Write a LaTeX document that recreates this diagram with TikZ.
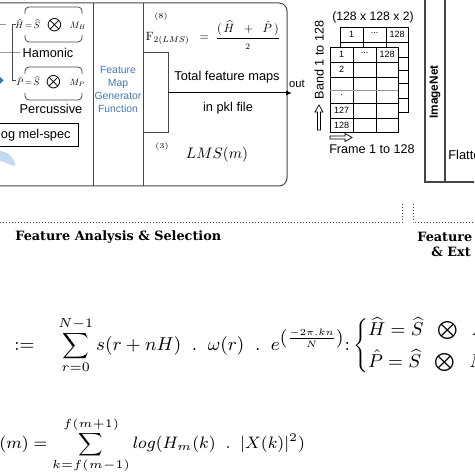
\RequirePackage{fix-cm}
\documentclass[tikz,border=0pt]{standalone}
\usepackage{amsmath}
\usepackage{fontspec}
\setsansfont{Liberation Sans}
\newfontfamily\headfont{DejaVu Serif}
\usetikzlibrary{arrows.meta,positioning}
\definecolor{fmblue}{RGB}{70,120,175}
\definecolor{boxgrey}{RGB}{70,70,70}
\definecolor{lightgrey}{RGB}{150,150,150}
\definecolor{iconblue}{RGB}{40,120,200}
\newcommand{\bigox}{\scalebox{1.45}{$\bigotimes$}}

\begin{document}
\begin{tikzpicture}[x=0.5pt,y=-0.5pt,
  textnode/.style={font=\sffamily\fontsize{6.4}{7.7}\selectfont,inner sep=0pt},
  gennode/.style={font=\sffamily\fontsize{5.2}{6.5}\selectfont,text=fmblue,align=center,inner sep=0pt},
  cellnode/.style={font=\sffamily\fontsize{4.5}{5}\selectfont,inner sep=0pt},
  tagnode/.style={font=\fontsize{3.8}{4}\selectfont,inner sep=0pt},
  mathnode/.style={font=\normalsize,inner sep=0pt},
  eqnode/.style={font=\fontsize{9.3}{11}\selectfont,anchor=west,inner sep=0pt},
  headnode/.style={font=\headfont\bfseries\fontsize{6.4}{7.5}\selectfont,inner sep=0pt,anchor=west},
  cell/.style={draw=black,line width=0.4pt,fill=white},
  hollow/.style={draw=black,line width=0.35pt,fill=white}]
  \useasboundingbox (0,0) rectangle (474,474);
  \clip (0,0) rectangle (474,474);

  % feature analysis frame
  \draw[boxgrey,line width=0.5pt,rounded corners=4pt] (0,3) -- (287,3) -- (287,186) -- (0,186);
  \draw[boxgrey,line width=0.5pt] (93,3) -- (93,186);
  \draw[boxgrey,line width=0.5pt] (143,3) -- (143,186);

  % HPSS
  \draw[lightgrey,line width=0.4pt] (0,24) -- (6,24);
  \draw[lightgrey,line width=0.4pt] (0,52) -- (20,52);
  \draw[boxgrey,line width=0.4pt] (16,24) -- (12,24) -- (12,80) -- (16,80);
  \fill[iconblue] (0,77) -- (3.5,80.5) -- (0,84) -- cycle;
  \draw[boxgrey,line width=0.4pt,rounded corners=2pt] (25,14) -- (25,7) -- (82,7) -- (82,14);
  \draw[boxgrey,line width=0.4pt,rounded corners=2pt] (25,35) -- (25,42) -- (82,42) -- (82,35);
  \draw[boxgrey,line width=0.4pt,rounded corners=2pt] (25,74) -- (25,67) -- (82,67) -- (82,74);
  \draw[boxgrey,line width=0.4pt,rounded corners=2pt] (25,93) -- (25,100) -- (82,100) -- (82,93);
  \node[mathnode] (hform) at (50.5,25) {\scalebox{0.46}{$\widehat{H}\,{=}\,\widehat{S}\hspace{7.6pt}\bigox\hspace{8.7pt}M_H$}};
  \node[mathnode] (pform) at (50.5,82) {\scalebox{0.46}{$\hat{P}\,{=}\,\widehat{S}\hspace{7.6pt}\bigox\hspace{8.7pt}M_P$}};
  \node[textnode] (harm) at (48,53) {Hamonic};
  \node[textnode] (perc) at (51,109) {Percussive};
  \draw[black,line width=0.5pt] (0,124) -- (78,124) -- (78,147) -- (0,147);
  \node[textnode,anchor=west] (melspec) at (0.5,135.5) {og mel-spec};
  \fill[iconblue!35,opacity=0.8] (0,151) .. controls (9,152) and (15,158) .. (15,166) .. controls (9,165) and (4,161) .. (0,161) -- cycle;

  \node[gennode] (fmg) at (118,89) {Feature\\Map\\Generator\\Function};

  % feature maps
  \node[tagnode] (eqeight) at (161,17) {(8)};
  \node[mathnode] (favg) at (213,35) {\scalebox{0.6}{$\mathrm{F}_{2(LMS)}\;\;=\;\dfrac{(\,\widehat{H}\;\;+\;\;\hat{P}\,)}{\scriptstyle 2}$}};
  \draw[boxgrey,line width=0.5pt] (143,53) -- (168,53) -- (168,133) -- (143,133);
  \coordinate (mapout) at (168,93);
  \coordinate (pkl) at (292,93);
  \draw[-{Latex[length=3pt,width=2.5pt]},black,line width=0.5pt] (mapout) -- (pkl);
  \node[textnode] (total) at (227,77) {Total feature maps};
  \node[textnode] (infile) at (228,108) {in pkl file};
  \node[textnode,font=\sffamily\fontsize{5.6}{6}\selectfont] (out) at (297,84) {out};
  \node[tagnode] (eqthree) at (162,147) {(3)};
  \node[mathnode] (lmsm) at (217,155) {\scalebox{0.76}{$LMS(m)$}};

  % 128 x 128 x 2 input
  \begin{scope}[shift={(10,-20)}]
    \foreach \ya/\yb in {47/62,62/77,77/90,90/103,103/118,118/132}
      \foreach \xa/\xb in {330/353,353/376,376/398}
        \draw[cell] (\xa,\ya) rectangle (\xb,\yb);
    \node[cellnode] (ba) at (341.5,54.5) {1};
    \node[cellnode] (bb) at (364.5,53.5) {...};
    \node[cellnode] (bc) at (387,54.5) {128};
  \end{scope}
  \foreach \ya/\yb in {47/62,62/77,77/90,90/103,103/118,118/132}
    \foreach \xa/\xb in {330/353,353/376,376/398}
      \draw[cell] (\xa,\ya) rectangle (\xb,\yb);
  \draw[lightgrey,line width=0.4pt] (330,90) -- (398,90);
  \node[cellnode] (fa) at (341.5,54.5) {1};
  \node[cellnode] (fb) at (364.5,53.5) {...};
  \node[cellnode] (fc) at (387,54.5) {128};
  \node[cellnode] (fd) at (341.5,69.5) {2};
  \node[cellnode] (fe) at (341.5,95) {.};
  \node[cellnode] (ff) at (341.5,110.5) {127};
  \node[cellnode] (fg) at (341.5,125) {128};
  \node[textnode,font=\sffamily\fontsize{6.1}{7}\selectfont] (dims) at (373,17) {(128 x 128 x 2)};
  \node[textnode,font=\sffamily\fontsize{6.3}{7}\selectfont,rotate=90] (band) at (319,60) {Band 1 to 128};
  \node[textnode,font=\sffamily\fontsize{6.3}{7}\selectfont] (frame) at (372,149) {Frame 1 to 128};
  \draw[hollow] (317.5,130) -- (317.5,112) -- (315,112) -- (319,105) -- (323,112) -- (320.5,112) -- (320.5,130) -- cycle;
  \draw[hollow] (330,136) -- (345,136) -- (345,133.5) -- (352,137.5) -- (345,141.5) -- (345,139) -- (330,139) -- cycle;

  % pretrained model
  \draw[boxgrey,line width=0.6pt] (425,0) -- (425,182) -- (474,182);
  \draw[boxgrey,line width=0.6pt] (445,0) -- (445,182);
  \node[textnode,font=\sffamily\bfseries\fontsize{5.9}{7}\selectfont,rotate=90] (imnet) at (435,92) {ImageNet};
  \node[textnode,anchor=west] (flat) at (448,155) {Flatte};

  % section borders
  \draw[boxgrey,densely dotted,line width=0.5pt] (0,223) -- (402,223) -- (402,204);
  \draw[boxgrey,densely dotted,line width=0.5pt] (413,204) -- (413,223) -- (474,223);
  \node[headnode] (fas) at (15,237) {Feature Analysis \& Selection};
  \node[headnode] (fext) at (417,237) {Feature};
  \node[headnode] (fextb) at (431,252) {\& Ext};

  % equations
  \node[eqnode] (stft) at (14,346) {$\displaystyle :=\quad\sum_{r=0}^{N-1} s(r+nH)\;\;.\;\;\omega(r)\;\;.\;\;e^{\left(\frac{-2\pi.kn}{N}\right)}{:}\begin{cases}\widehat{H}=\widehat{S}\;\;\bigotimes\;\;M\\[3pt] \hat{P}=\widehat{S}\;\;\bigotimes\;\;M\end{cases}$};
  \node[eqnode,font=\fontsize{8.3}{10}\selectfont] (lms) at (-1,445) {$\displaystyle (m)=\sum_{k=f(m-1)}^{f(m+1)} log(H_m(k)\;\;.\;\;|X(k)|^2)$};
\end{tikzpicture}
\end{document}
